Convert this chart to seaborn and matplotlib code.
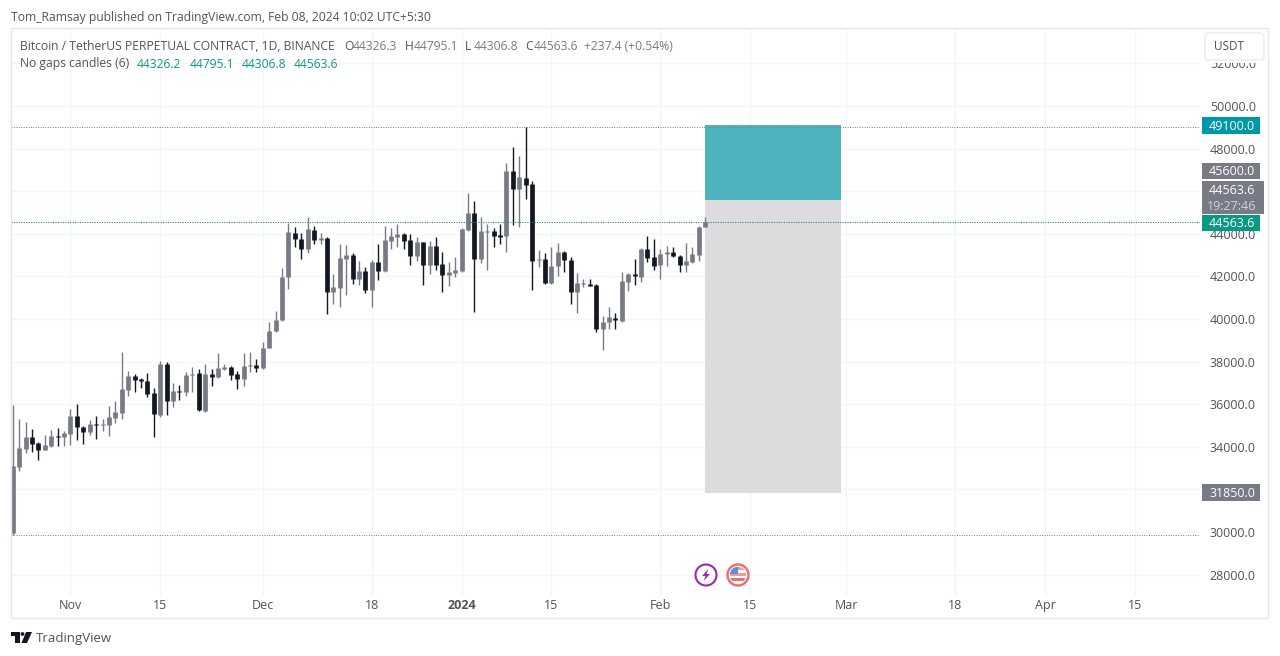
import pandas as pd
import numpy as np
import matplotlib
matplotlib.use('Agg')
import matplotlib.pyplot as plt
from matplotlib.patches import Circle, FancyBboxPatch, Polygon, Rectangle
import seaborn as sns

# daily candles, first one is 2023-10-23
first_day = '2023-10-23'
opens = [29940, 33070, 33900, 34480, 34160, 33850, 34040, 34510, 34440, 34600,
         35430, 34940, 34700, 35060, 35020, 35040, 35350, 35600, 36670, 37340,
         37170, 37100, 36510, 35510, 37890, 36150, 36620, 36560, 37370, 37450,
         35700, 37400, 37280, 37670, 37760, 37420, 37200, 37810, 37840, 37680,
         38640, 39450, 39950, 41960, 44050, 43750, 43270, 44190, 43710, 43800,
         41250, 41470, 42820, 43000, 41890, 42250, 41360, 42660, 42270, 43680,
         43870, 43990, 43690, 42960, 43600, 42520, 43440, 42580, 42070, 42160,
         42270, 44180, 44960, 42800, 44100, 44130, 43930, 43880, 46950, 46090,
         46640, 46320, 42750, 42800, 41670, 42490, 43150, 42770, 41280, 41640,
         41660, 41580, 39530, 39860, 40060, 39920, 41750, 42100, 41990, 43270,
         42900, 42520, 43050, 43160, 42970, 42520, 42680, 43020, 44326.3]
highs = [35960, 35300, 35150, 34820, 34240, 34550, 34790, 34870, 34760, 35760,
         35990, 34980, 35260, 35450, 35290, 35930, 36170, 38470, 37560, 37420,
         37250, 37450, 36780, 38040, 38000, 37010, 36890, 37530, 37760, 37640,
         37890, 37640, 38390, 37870, 37790, 37570, 38390, 38450, 38140, 38940,
         39860, 40390, 42410, 44520, 44330, 44050, 44770, 44370, 44050, 43830,
         42100, 43500, 43470, 43110, 42720, 42460, 42770, 43520, 44370, 44290,
         44460, 44050, 43980, 43830, 43630, 43680, 43870, 43160, 42660, 42930,
         44270, 45930, 45560, 44800, 44460, 44260, 44460, 47310, 48060, 47650,
         49030, 46490, 43240, 43080, 43400, 43580, 43210, 42930, 42180, 41860,
         41860, 41630, 40140, 40550, 40270, 42210, 42180, 42820, 43330, 43910,
         43740, 43270, 43440, 43400, 43000, 43580, 43400, 44370, 44795.1]
lows = [29860, 32860, 33690, 33770, 33380, 33850, 33970, 34040, 34040, 34080,
        34330, 34130, 34550, 34370, 34760, 34510, 35100, 35300, 36390, 36590,
        36750, 36320, 34440, 35380, 35480, 35880, 36200, 36390, 36590, 35700,
        35650, 36870, 37250, 37610, 37140, 36700, 36870, 37530, 37500, 37640,
        38640, 39400, 39920, 41390, 43370, 42800, 43080, 43520, 43520, 40240,
        40700, 40550, 41140, 41640, 41600, 41240, 40580, 41830, 42220, 43290,
        43400, 43290, 42540, 42740, 41580, 42110, 42300, 41270, 41550, 41960,
        42220, 44150, 40310, 42610, 42300, 43370, 43520, 43130, 44410, 44300,
        45620, 41360, 42430, 41640, 41640, 42020, 42190, 40690, 40300, 41490,
        41550, 39400, 38550, 39520, 39520, 39880, 41330, 41600, 41750, 42660,
        42300, 41860, 42500, 42900, 42190, 42220, 42610, 42740, 44306.8]
closes = [33100, 33930, 34480, 34130, 33850, 34070, 34510, 34440, 34630, 35430,
          34930, 34700, 35070, 35010, 35060, 35380, 35630, 36700, 37320, 37150,
          37090, 36460, 35520, 37890, 36150, 36620, 36560, 37370, 37430, 35730,
          37420, 37280, 37680, 37760, 37390, 37180, 37790, 37840, 37700, 38640,
          39440, 39950, 41960, 44070, 43740, 43270, 44210, 43710, 43800, 41250,
          41500, 42850, 43000, 41890, 42250, 41350, 42660, 42270, 43690, 43900,
          43980, 43660, 42960, 43610, 42520, 43440, 42540, 42070, 42190, 42320,
          44210, 44960, 42800, 44120, 44130, 43900, 43870, 46950, 46090, 46650,
          46290, 42740, 42820, 41670, 42500, 43130, 42750, 41280, 41670, 41670,
          41570, 39520, 39880, 40080, 39940, 41770, 42110, 42000, 43300, 42880,
          42500, 43050, 43160, 42960, 42520, 42710, 43050, 44320, 44563.6]

# long position tool
entry_price = 45600
target_price = 49100
stop_price = 31850
tool_end = '2024-02-29 05:00'

price_ticks = [28000, 30000, 32000, 34000, 36000, 38000, 40000, 42000, 44000,
               46000, 48000, 50000, 52000]
price_labels = ['28000.0', '30000.0', '32000.0', '34000.0', '36000.0', '38000.0', '40000.0',
                '42000.0', '44000.0', '', '48000.0', '50000.0', '52000.0']
date_ticks = ['2023-11-01', '2023-11-15', '2023-12-01', '2023-12-18', '2024-01-01', '2024-01-15',
              '2024-02-01', '2024-02-15', '2024-03-01', '2024-03-18', '2024-04-01', '2024-04-15']
date_labels = ['Nov', '15', 'Dec', '18', '2024', '15', 'Feb', '15', 'Mar', '18', 'Apr', '15']

UP = '#787b86'
DOWN = '#131722'
TEAL = '#089981'
TEXT = '#50535e'
FONT = 'Open Sans'

sns.set_theme(style='white')
plt.rcParams['font.family'] = [FONT, 'DejaVu Sans']

W, H = 1280, 656
fig = plt.figure(figsize=(W / 100, H / 100), dpi=100, facecolor='white')
# plot area in pixels: x 11-1200, y 28-596
ax = fig.add_axes([11 / W, 1 - 596 / H, (1200 - 11) / W, (596 - 28) / H])

days = pd.date_range(first_day, periods=len(opens), freq='D')
df = pd.DataFrame({'date': days, 'open': opens, 'high': highs, 'low': lows, 'close': closes})
df['candle'] = range(len(df))
df['direction'] = np.where(df['close'] >= df['open'], 'up', 'down')

wicks = df.melt(id_vars=['candle', 'date', 'direction'], value_vars=['low', 'high'], value_name='price')
bodies = df.melt(id_vars=['candle', 'date', 'direction'], value_vars=['open', 'close'], value_name='price')
palette = {'up': UP, 'down': DOWN}

day0 = pd.Timestamp(first_day)
ax.set_facecolor('white')
ax.fill_between([days[-1], pd.Timestamp(tool_end)], entry_price, target_price,
                color='#4db3bf', lw=0, zorder=1)
ax.fill_between([days[-1], pd.Timestamp(tool_end)], stop_price, entry_price,
                color='#dcdcdf', lw=0, zorder=1)

sns.lineplot(data=wicks, x='date', y='price', hue='direction', units='candle', estimator=None,
             palette=palette, legend=False, linewidth=1.0, solid_capstyle='butt', ax=ax, zorder=3)
sns.lineplot(data=bodies, x='date', y='price', hue='direction', units='candle', estimator=None,
             palette=palette, legend=False, linewidth=3.4, solid_capstyle='butt', ax=ax, zorder=4)

# high, low and last price lines
ax.axhline(max(highs), color=UP, ls=(0, (1, 1.5)), lw=0.7, zorder=2)
ax.axhline(min(lows), color=UP, ls=(0, (1, 1.5)), lw=0.7, zorder=2)
ax.axhline(closes[-1], color='#3d7f7c', ls=(0, (1, 1.2)), lw=0.8, zorder=5)

ax.set_xlim(day0 - pd.Timedelta(days=0.28), day0 + pd.Timedelta(days=185.18))
ax.set_ylim(26995, 53662)
ax.set_xlabel('')
ax.set_ylabel('')

ax.set_yticks(price_ticks)
ax.set_yticklabels(price_labels)
ax.yaxis.tick_right()
ax.set_xticks(pd.to_datetime(date_ticks))
ax.set_xticklabels(date_labels)
ax.tick_params(axis='both', length=0, labelsize=9, labelcolor=TEXT)
ax.tick_params(axis='y', pad=7)
ax.tick_params(axis='x', pad=2.3)
ax.get_xticklabels()[4].set_fontweight('bold')
ax.grid(True, color='#f4f5f9', lw=1)
ax.set_axisbelow(True)
sns.despine(ax=ax, left=True, bottom=True, right=True, top=True)

# overlay in pixel coordinates for the chart frame, tags and icons
ov = fig.add_axes([0, 0, 1, 1])
ov.set_xlim(0, W)
ov.set_ylim(H, 0)
ov.axis('off')
ov.patch.set_alpha(0)

ov.add_patch(Rectangle((11, 28), 1257, 590, fill=False, ec='#e6e7ec', lw=1))

# white cover hides the top of the 52000 label behind the unit box
ov.add_patch(Rectangle((1203, 31), 63, 32, fc='white', ec='none', zorder=2))
ov.add_patch(FancyBboxPatch((1205, 33), 59, 27, boxstyle='round,pad=0,rounding_size=3',
                            fc='white', ec='#e6e7ec', lw=0.8, zorder=3))
ov.text(1229, 47, 'USDT', fontsize=8.5, color=TEXT, ha='center', va='center', zorder=4)


def tag(y0, y1, color, label, x1=1260):
    ov.add_patch(Rectangle((1202, y0), x1 - 1202, y1 - y0, fc=color, ec='none', zorder=3))
    if label:
        ov.text(1232, (y0 + y1) / 2 + 0.7, label, fontsize=9, color='white', ha='center', va='center', zorder=4)


tag(117, 134, '#0097a7', '49100.0')
tag(163, 179, UP, '45600.0')
tag(181, 214, UP, '', x1=1264)
ov.text(1232, 190.5, '44563.6', fontsize=9, color='white', ha='center', va='center', zorder=4)
ov.text(1232, 206, '19:27:46', fontsize=9, color='#d1d4dc', ha='center', va='center', zorder=4)
tag(215, 231, TEAL, '44563.6')
tag(484, 501, UP, '31850.0')

# header
ov.text(11, 17.5, 'Tom_Ramsay published on TradingView.com, Feb 08, 2024 10:02 UTC+5:30',
        fontsize=8.7, color=TEXT, va='center')
ov.text(20, 46, 'Bitcoin / TetherUS PERPETUAL CONTRACT, 1D, BINANCE', fontsize=8.7, color=TEXT, va='center')
for x, head, val in [(344, 'O', '44326.3'), (405, 'H', '44795.1'), (465, 'L', '44306.8'), (525, 'C', '44563.6')]:
    ov.text(x, 46, head, fontsize=8.7, color=TEXT, va='center')
    ov.text(x + 9, 46, val, fontsize=8.7, color=UP, va='center')
ov.text(584, 46, '+237.4 (+0.54%)', fontsize=8.7, color=UP, va='center')
ov.text(20, 64, 'No gaps candles (6)', fontsize=8.7, color=TEXT, va='center')
for x, val in [(137, '44326.2'), (190, '44795.1'), (242, '44306.8'), (294, '44563.6')]:
    ov.text(x, 64, val, fontsize=8.7, color=TEAL, va='center')

# event icons
ov.add_patch(Circle((706, 575), 10.5, fc='white', ec='#9c27b0', lw=1.5, zorder=3))
ov.add_patch(Polygon([(708.5, 569), (702, 576), (705.5, 576), (703.5, 581), (710, 574), (706.5, 574)],
                     fc='#9c27b0', ec='none', zorder=4))
ov.add_patch(Circle((738, 575), 10.5, fc='white', ec='#e57373', lw=1.8, zorder=3))
flag = Circle((738, 575), 8.2, fc='white', ec='none', zorder=4)
ov.add_patch(flag)
for y0, h, c in [(567, 3, '#ef9a9a'), (573, 2.5, '#ef9a9a'), (578, 2.5, '#e57373')]:
    r = Rectangle((729, y0), 18, h, fc=c, ec='none', zorder=5)
    ov.add_patch(r)
    r.set_clip_path(flag)
canton = Rectangle((729, 566), 9, 8, fc='#5c8fd6', ec='none', zorder=6)
ov.add_patch(canton)
canton.set_clip_path(flag)

# logo
ov.add_patch(Polygon([(11, 632), (20, 632), (20, 643), (15, 643), (15, 636), (11, 636)], fc='#131722', ec='none'))
ov.add_patch(Circle((22.5, 634), 1.9, fc='#131722', ec='none'))
ov.add_patch(Polygon([(26, 632), (32, 632), (27, 643), (21.5, 643)], fc='#131722', ec='none'))
ov.text(36, 638.5, 'TradingView', fontsize=9.5, color=TEXT, va='center')

fig.savefig('out.png', dpi=100, facecolor='white')
